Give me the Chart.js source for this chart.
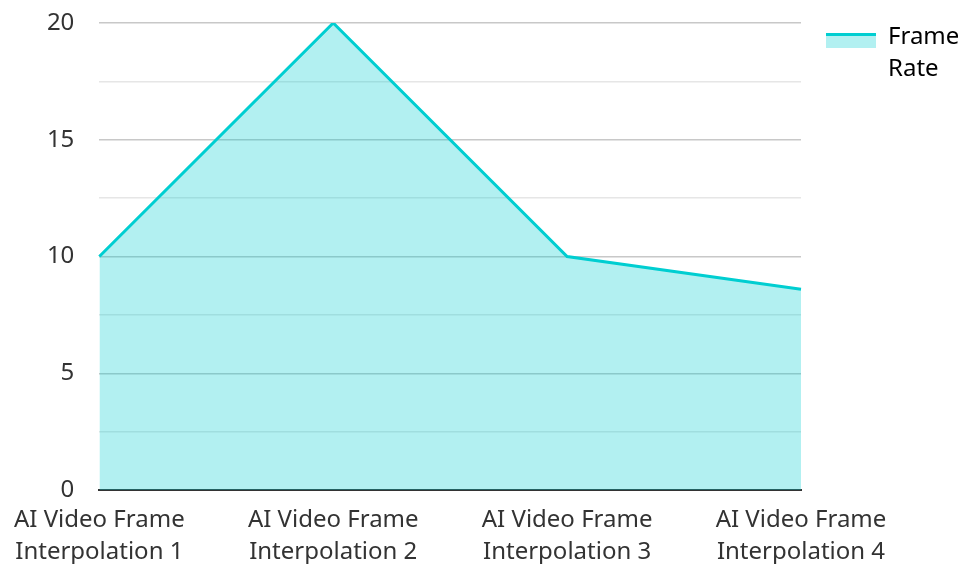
<!DOCTYPE html>
<html lang="en">
<head>
    <meta charset="UTF-8" />
    <title>Frame Rate</title>
    <style>
        html, body { margin: 0; padding: 0; background: #fff; }
        #wrap { width: 961px; height: 564px; }
    </style>
</head>
<body>
    <script src="https://cdn.jsdelivr.net/npm/chart.js"></script>
    <div id="wrap"><canvas id="chart"></canvas></div>
    <script>
        "use strict";
        const labels = [
            ["AI Video Frame", "Interpolation 1"],
            ["AI Video Frame", "Interpolation 2"],
            ["AI Video Frame", "Interpolation 3"],
            ["AI Video Frame", "Interpolation 4"]
        ];
        const frameRate = [10, 20, 10, 8.6];
        const seriesName = ["Frame", "Rate"];
        const yMajorTicks = [0, 5, 10, 15, 20];

        const lineColor = "rgb(0, 206, 209)";
        const fillColor = "rgba(0, 206, 209, 0.3)";
        const textColor = "#333";
        const fontFamily = "'Noto Sans', sans-serif";

        // legend swatch: thin line on top of a filled block
        const swatch = document.createElement("canvas");
        swatch.width = 50;
        swatch.height = 28;
        const sctx = swatch.getContext("2d");
        sctx.fillStyle = fillColor;
        sctx.fillRect(0, 13, 50, 12);
        sctx.fillStyle = lineColor;
        sctx.fillRect(0, 10, 50, 3);

        Chart.defaults.font.family = fontFamily;
        Chart.defaults.font.size = 24;
        Chart.defaults.color = textColor;

        const ctx = document.getElementById("chart").getContext("2d");
        new Chart(ctx, {
            type: "line",
            data: {
                labels: labels,
                datasets: [{
                    label: seriesName.join(" "),
                    data: frameRate,
                    borderColor: lineColor,
                    backgroundColor: fillColor,
                    borderWidth: 3,
                    fill: "origin",
                    tension: 0,
                    pointRadius: 0,
                    pointHoverRadius: 0
                }]
            },
            options: {
                responsive: true,
                maintainAspectRatio: false,
                animation: false,
                layout: { padding: { top: 0, right: 3, bottom: -18, left: 0 } },
                plugins: {
                    tooltip: { enabled: false },
                    legend: {
                        position: "right",
                        align: "start",
                        maxWidth: 157,
                        labels: {
                            usePointStyle: true,
                            pointStyleWidth: 50,
                            boxHeight: 15,
                            padding: 25,
                            font: { size: 24, lineHeight: 1.333 },
                            color: textColor,
                            generateLabels: function (chart) {
                                return [{
                                    text: seriesName,
                                    pointStyle: swatch,
                                    fillStyle: fillColor,
                                    strokeStyle: lineColor,
                                    lineWidth: 0,
                                    datasetIndex: 0,
                                    hidden: false
                                }];
                            }
                        }
                    }
                },
                scales: {
                    x: {
                        offset: false,
                        grid: { display: false, drawTicks: false },
                        border: { display: true, color: "#333", width: 2 },
                        ticks: {
                            padding: 14,
                            maxRotation: 0,
                            autoSkip: false,
                            font: { size: 24, lineHeight: 1.333 }
                        }
                    },
                    y: {
                        min: 0,
                        max: 20,
                        afterTickToLabelConversion: function (scale) {
                            scale.ticks.forEach(function (t) {
                                t.label = yMajorTicks.includes(t.value) ? String(t.value) : "";
                            });
                        },
                        afterFit: function (scale) {
                            scale.width = 99;
                            scale.paddingTop = 23;
                            scale.paddingBottom = 0;
                        },
                        ticks: { stepSize: 2.5, padding: 25, font: { size: 24, lineHeight: 0.95 } },
                        border: { display: false },
                        grid: {
                            drawTicks: false,
                            lineWidth: 1.5,
                            color: function (c) {
                                return yMajorTicks.includes(c.tick.value) ? "#c8c8c8" : "#e6e6e6";
                            }
                        }
                    }
                }
            }
        });
    </script>
</body>
</html>
